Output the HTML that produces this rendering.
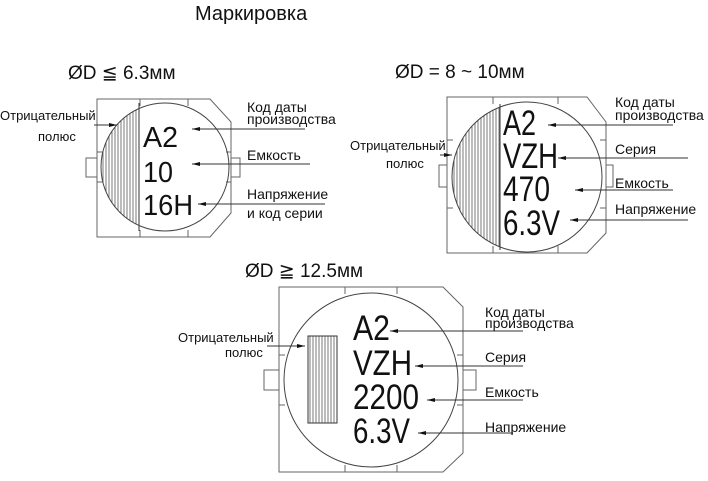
<!DOCTYPE html>
<html><head><meta charset="utf-8"><style>body{margin:0;background:#fff}svg{display:block}text{font-family:"Liberation Sans",sans-serif;fill:#111}</style></head><body>
<svg width="708" height="481" viewBox="0 0 708 481" xmlns="http://www.w3.org/2000/svg">
<defs>
<pattern id="h" width="3" height="10" patternUnits="userSpaceOnUse"><line x1="1" y1="0" x2="1" y2="10" stroke="#555" stroke-width="0.8"/></pattern>
<marker id="a" markerWidth="8" markerHeight="6" refX="8" refY="3" orient="auto" markerUnits="userSpaceOnUse"><path d="M0,1 L8,3 L0,5z" fill="#111"/></marker>
<clipPath id="c1"><circle cx="165" cy="167" r="64"/></clipPath>
<clipPath id="c2"><circle cx="527" cy="177" r="75"/></clipPath>
</defs>
<text x="195" y="20" font-size="20">Маркировка</text>

<!-- Diagram 1 -->
<text x="68" y="79" font-size="19">ØD ≦ 6.3мм</text>
<g fill="none" stroke="#666" stroke-width="1">
<path d="M97,99 H210 L231,122 V213 L210,237 H97 Z"/>
<rect x="86" y="158" width="11" height="19"/><rect x="231" y="158" width="9" height="19"/>
<path d="M140,99 V106 M188,99 V106 M140,230 V237 M188,230 V237 M97,152 H103 M97,182 H103 M226,152 H231 M226,182 H231"/>
</g>
<rect x="100" y="100" width="39" height="135" fill="url(#h)" clip-path="url(#c1)"/>
<line x1="139" y1="103" x2="139" y2="231" stroke="#333"/>
<circle cx="165" cy="167" r="64" fill="none" stroke="#444"/>
<g font-size="29" lengthAdjust="spacingAndGlyphs"><text x="143" y="147" textLength="35" lengthAdjust="spacingAndGlyphs">A2</text><text x="143" y="182" textLength="30" lengthAdjust="spacingAndGlyphs">10</text><text x="143" y="215" textLength="50" lengthAdjust="spacingAndGlyphs">16H</text></g>
<g stroke="#333" stroke-width="1" marker-end="url(#a)">
<line x1="305" y1="129" x2="192" y2="129"/><line x1="310" y1="164" x2="192" y2="164"/><line x1="325" y1="204" x2="198" y2="204"/><line x1="94" y1="125" x2="117" y2="125"/>
</g>
<g font-size="14"><text x="247" y="112">Код даты</text><text x="247" y="124">производства</text><text x="247" y="160">Емкость</text><text x="247" y="199">Напряжение</text><text x="247" y="218">и код серии</text></g>
<g font-size="13"><text x="0" y="120">Отрицательный</text><text x="38" y="141">полюс</text></g>

<!-- Diagram 2 -->
<text x="395" y="78" font-size="19">ØD = 8 ~ 10мм</text>
<g fill="none" stroke="#666" stroke-width="1">
<path d="M447,97 H587 L606,122 V233 L587,253 H447 Z"/>
<rect x="439" y="165" width="8" height="22"/><rect x="606" y="165" width="7" height="22"/>
<path d="M493,97 V104 M558,97 V104 M493,246 V253 M558,246 V253 M447,140 H453 M447,208 H453 M600,140 H606 M600,208 H606"/>
</g>
<rect x="451" y="102" width="49" height="150" fill="url(#h)" clip-path="url(#c2)"/>
<line x1="500" y1="104" x2="500" y2="250" stroke="#333"/>
<circle cx="527" cy="177" r="75" fill="none" stroke="#444"/>
<g font-size="35"><text x="503" y="135" textLength="33" lengthAdjust="spacingAndGlyphs">A2</text><text x="503" y="168" textLength="55" lengthAdjust="spacingAndGlyphs">VZH</text><text x="503" y="201" textLength="47" lengthAdjust="spacingAndGlyphs">470</text><text x="503" y="235" textLength="57" lengthAdjust="spacingAndGlyphs">6.3V</text></g>
<g stroke="#333" stroke-width="1" marker-end="url(#a)">
<line x1="673" y1="125" x2="548" y2="125"/><line x1="688" y1="158" x2="558" y2="158"/><line x1="673" y1="190" x2="575" y2="190"/><line x1="688" y1="220" x2="570" y2="220"/><line x1="440" y1="155" x2="452" y2="155"/>
</g>
<g font-size="14"><text x="615" y="107">Код даты</text><text x="615" y="120">производства</text><text x="615" y="154">Серия</text><text x="615" y="188">Емкость</text><text x="615" y="214">Напряжение</text></g>
<g font-size="13"><text x="350" y="150">Отрицательный</text><text x="386" y="168">полюс</text></g>

<!-- Diagram 3 -->
<text x="245" y="277" font-size="19">ØD ≧ 12.5мм</text>
<g fill="none" stroke="#666" stroke-width="1">
<path d="M279,287 H443 L463,307 V453 L443,472 H279 Z"/>
<rect x="264" y="370" width="15" height="20"/><rect x="463" y="370" width="13" height="20"/>
<path d="M345,287 V294 M397,287 V294 M345,465 V472 M397,465 V472 M279,355 H285 M279,405 H285 M457,355 H463 M457,405 H463"/>
</g>
<rect x="308" y="336" width="29" height="87" fill="url(#h)" stroke="#333"/>
<circle cx="371" cy="380" r="87" fill="none" stroke="#444"/>
<g font-size="35"><text x="353" y="340" textLength="37" lengthAdjust="spacingAndGlyphs">A2</text><text x="353" y="375" textLength="59" lengthAdjust="spacingAndGlyphs">VZH</text><text x="353" y="409" textLength="66" lengthAdjust="spacingAndGlyphs">2200</text><text x="353" y="443" textLength="57" lengthAdjust="spacingAndGlyphs">6.3V</text></g>
<g stroke="#333" stroke-width="1" marker-end="url(#a)">
<line x1="523" y1="331" x2="390" y2="331"/><line x1="523" y1="366" x2="415" y2="366"/><line x1="523" y1="400" x2="427" y2="400"/><line x1="513" y1="433" x2="418" y2="433"/><line x1="267" y1="346" x2="305" y2="346"/>
</g>
<g font-size="14"><text x="485" y="317">Код даты</text><text x="485" y="328">производства</text><text x="485" y="362">Серия</text><text x="485" y="397">Емкость</text><text x="485" y="432">Напряжение</text></g>
<g font-size="13"><text x="178" y="342">Отрицательный</text><text x="225" y="357">полюс</text></g>
</svg>
</body></html>
